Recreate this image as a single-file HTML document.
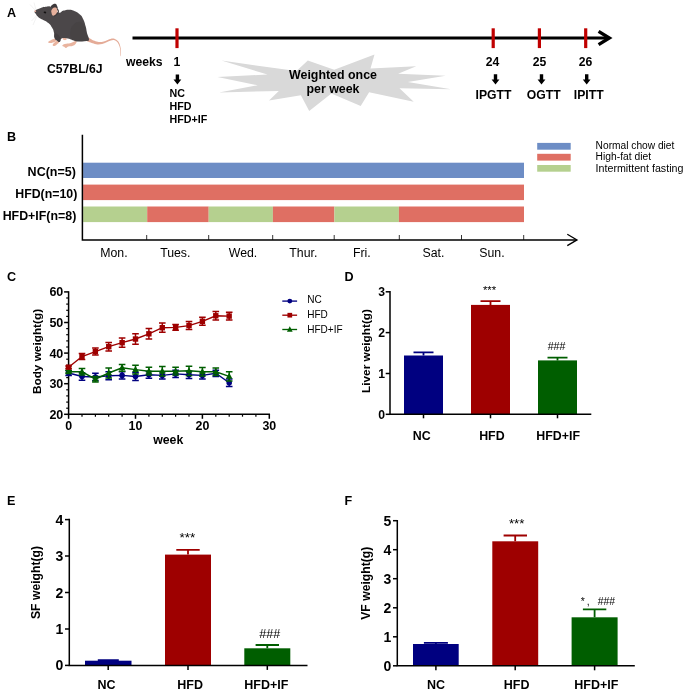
<!DOCTYPE html>
<html lang="en"><head><meta charset="utf-8"><title>Figure 1</title>
<style>html,body{margin:0;padding:0;background:#fff;}svg{display:block;}
text{font-family:"Liberation Sans",sans-serif;}
text.b{font-weight:bold;}
text.r{font-weight:normal;}</style>
</head><body>
<svg width="685" height="695" viewBox="0 0 685 695">
<rect width="685" height="695" fill="#fff"/>
<text x="7.0" y="16.9" font-size="12.6" class="b" text-anchor="start" fill="#000" >A</text>
<g id="mouse">
<path d="M86.4,40.8 C86.7,41.6 88.8,41.8 89.8,42.3 C90.9,42.7 91.4,43.0 92.6,43.3 C93.9,43.7 95.8,44.3 97.3,44.4 C98.9,44.5 100.6,44.4 102.1,44.1 C103.6,43.7 105.2,43.0 106.6,42.3 C108.1,41.7 109.5,40.8 110.8,40.4 C112.0,40.0 113.0,39.7 114.0,40.0 C115.1,40.3 116.4,40.9 117.3,41.9 C118.2,43.0 118.9,44.6 119.4,46.1 C119.9,47.7 120.3,49.7 120.4,51.3 C120.5,52.9 120.1,55.0 120.1,55.8 C120.1,56.5 120.3,56.6 120.5,55.8 C120.7,55.1 121.1,52.9 121.0,51.3 C121.0,49.6 120.7,47.5 120.2,45.9 C119.7,44.2 119.1,42.4 118.1,41.3 C117.1,40.1 115.6,39.2 114.4,38.8 C113.1,38.4 111.8,38.7 110.4,39.0 C109.0,39.3 107.4,40.2 106.0,40.7 C104.5,41.1 103.1,41.7 101.7,41.9 C100.3,42.1 99.0,42.1 97.7,41.8 C96.3,41.6 94.7,40.9 93.6,40.5 C92.5,40.1 92.1,39.8 91.2,39.3 C90.2,38.9 88.8,37.3 88.0,37.6 C87.2,37.8 86.1,40.0 86.4,40.8 Z" fill="#e4ab97"/>
<path d="M35.5,10.5 L30,4.5 M36,10 L34,2.5 M36.5,17 L33,25 M36.2,16 L31.5,21" stroke="#dedede" stroke-width="0.4" fill="none"/>
<path d="M75.5,40.9 C74.1,40.9 73.7,42.1 70.9,42.9 C68.0,43.7 67.0,43.2 64.7,43.9 C62.5,44.7 62.4,45.0 62.3,45.8 C62.2,46.5 63.3,46.2 64.2,46.8 C65.2,47.4 64.9,48.1 66.0,48.0 C67.1,47.9 66.5,47.1 68.3,46.5 C70.2,45.9 70.8,46.7 72.9,45.8 C75.0,44.8 75.5,44.2 76.2,42.9 C76.9,41.6 76.9,40.9 75.5,40.9 Z" fill="#e9b49f"/>
<path d="M55.0,38.8 C53.5,38.7 52.3,39.5 50.4,40.4 C48.6,41.2 48.3,41.4 48.2,42.1 C48.1,42.8 48.6,43.0 49.9,43.1 C51.2,43.2 51.4,43.0 53.0,42.4 C54.6,41.8 55.5,41.8 56.1,40.9 C56.6,39.9 56.5,39.0 55.0,38.8 Z" fill="#e9b49f"/>
<path d="M57.4,40.7 C56.2,40.8 55.8,41.3 54.5,42.4 C53.3,43.6 52.7,44.0 52.7,45.0 C52.7,45.9 53.4,46.1 54.5,46.0 C55.6,45.9 55.5,45.6 56.8,44.6 C58.0,43.5 59.0,43.1 59.1,42.1 C59.3,41.1 58.6,40.6 57.4,40.7 Z" fill="#e9b49f"/>
<path d="M62.5,38.0 C62.8,37.5 64.1,37.7 65.3,38.0 C66.4,38.4 67.1,38.8 66.8,39.3 C66.5,39.9 65.4,40.4 64.2,40.1 C63.1,39.7 62.2,38.6 62.5,38.0 Z" fill="#e9b49f"/>
<path d="M50.7,7.4 C50.5,6.0 51.5,5.4 52.7,4.5 C53.9,3.5 54.2,3.5 55.3,3.8 C56.5,4.1 56.3,4.2 56.9,5.6 C57.4,7.1 58.3,8.1 57.4,9.2 C56.5,10.3 55.3,10.2 53.5,9.7 C51.7,9.2 51.0,8.7 50.7,7.4 Z" fill="#3c383a"/>
<path d="M35.1,11.0 C36.3,9.4 37.0,9.4 40.2,8.2 C43.4,7.0 43.2,7.1 46.3,6.8 C49.5,6.6 48.1,5.6 51.5,7.2 C54.8,8.7 54.6,11.5 58.1,12.5 C61.6,13.5 60.7,11.4 63.7,10.6 C66.8,9.8 65.9,9.7 68.8,9.7 C71.7,9.7 71.0,9.6 73.9,10.7 C76.8,11.9 76.4,11.5 79.0,13.8 C81.7,16.1 81.3,15.3 83.1,18.9 C85.0,22.5 84.5,22.4 85.7,26.6 C86.8,30.8 86.3,30.1 87.2,33.7 C88.2,37.3 89.1,37.3 89.0,39.3 C88.8,41.4 89.5,40.5 86.7,41.1 C83.9,41.7 82.4,41.5 79.0,41.5 C75.7,41.4 77.3,41.5 75.0,40.9 C72.6,40.3 73.8,40.2 70.9,39.4 C68.0,38.7 67.6,38.2 64.7,38.1 C61.9,38.0 62.4,38.0 61.0,39.0 C59.5,40.1 60.8,41.5 59.6,41.9 C58.4,42.3 58.2,41.6 56.8,40.5 C55.3,39.3 55.3,40.0 54.5,37.8 C53.7,35.6 54.7,35.6 54.0,32.7 C53.3,29.8 53.6,30.3 52.0,27.6 C50.4,24.8 50.9,25.2 48.4,23.0 C45.9,20.8 46.0,21.5 43.3,19.9 C40.5,18.3 40.8,19.0 38.7,17.4 C36.6,15.7 36.9,15.9 35.9,14.1 C34.9,12.3 33.9,12.7 35.1,11.0 Z" fill="#4b4749"/>
<path d="M72.9,25.5 C75.0,23.0 75.3,22.4 78.0,22.0 C80.8,21.6 81.0,21.7 83.1,24.0 C85.3,26.3 84.8,26.7 86.0,30.7 C87.2,34.6 88.5,36.1 87.7,38.8 C87.0,41.6 86.3,40.4 83.1,40.9 C80.0,41.4 79.1,41.2 76.0,40.7 C72.9,40.1 72.9,41.2 71.4,38.8 C69.9,36.4 70.0,35.2 70.4,31.7 C70.8,28.1 70.9,28.1 72.9,25.5 Z" fill="#3c383a" opacity="0.28"/>
<path d="M54.5,33.7 C55.4,32.8 56.5,33.4 58.1,34.7 C59.7,36.1 60.2,37.0 60.7,38.8 C61.1,40.7 60.7,41.3 59.6,41.7 C58.6,42.1 58.1,41.4 56.8,40.5 C55.5,39.5 55.3,39.8 54.7,38.0 C54.1,36.2 53.6,34.6 54.5,33.7 Z" fill="#3c383a" opacity="0.6"/>
<path d="M55.0,7.4 C56.4,7.4 56.7,8.0 57.2,9.4 C57.6,10.8 57.8,11.1 56.8,12.8 C55.8,14.5 54.9,15.8 53.5,15.8 C52.1,15.8 51.9,14.5 51.5,12.8 C51.1,11.0 51.0,10.6 52.0,9.2 C52.9,7.8 53.6,7.3 55.0,7.4 Z" fill="#e6b09c"/>
<path d="M57.4,9.0 C57.7,9.7 58.6,10.3 58.4,11.8 C58.2,13.2 57.9,13.1 56.8,14.3 C55.6,15.5 54.7,15.8 54.0,16.3" fill="none" stroke="#3c383a" stroke-width="1.1"/>
<ellipse cx="44.9" cy="12.4" rx="1.35" ry="0.95" transform="rotate(15 44.9 12.4)" fill="#151313"/>
<circle cx="35.3" cy="11.2" r="0.9" fill="#dba392"/>
</g>
<text x="47" y="72.5" font-size="12.2" class="b" text-anchor="start" fill="#000" >C57BL/6J</text>
<line x1="132.5" y1="38" x2="608" y2="38" stroke="#000" stroke-width="3"/>
<path d="M598.6,31.4 L609.3,38 L598.6,44.6" fill="none" stroke="#000" stroke-width="3.4" stroke-linejoin="miter"/>
<line x1="177" y1="28.3" x2="177" y2="48.1" stroke="#c00000" stroke-width="3.2"/>
<line x1="493.2" y1="28.3" x2="493.2" y2="48.1" stroke="#c00000" stroke-width="3.2"/>
<line x1="539.4" y1="28.3" x2="539.4" y2="48.1" stroke="#c00000" stroke-width="3.2"/>
<line x1="585.7" y1="28.3" x2="585.7" y2="48.1" stroke="#c00000" stroke-width="3.2"/>
<text x="126" y="66" font-size="12.2" class="b" text-anchor="start" fill="#000" >weeks</text>
<text x="177" y="66" font-size="12.2" class="b" text-anchor="middle" fill="#000" >1</text>
<path d="M175.70000000000002,74.6 H179.1 V79.6 H181.3 L177.4,84.6 L173.5,79.6 H175.70000000000002 Z" fill="#000"/>
<text x="169.5" y="96.6" font-size="10.7" class="b" text-anchor="start" fill="#000" >NC</text>
<text x="169.5" y="109.8" font-size="10.7" class="b" text-anchor="start" fill="#000" >HFD</text>
<text x="169.5" y="123" font-size="10.7" class="b" text-anchor="start" fill="#000" >HFD+IF</text>
<polygon points="334.2,69.7 374.5,54.6 370.5,68.5 416.2,66.2 398.1,73.7 445.6,75.8 407.8,81.9 451.0,89.2 399.5,88.3 413.7,101.8 369.1,92.3 360.7,106.0 331.4,93.5 309.2,110.9 300.9,95.3 269.0,100.5 278.8,90.9 219.0,92.6 257.7,85.3 217.5,77.1 267.5,74.5 221.5,60.6 296.5,71.1 307.8,60.6" fill="#d9d9d9"/>
<text x="333" y="78.5" font-size="12.4" class="b" text-anchor="middle" fill="#000" >Weighted once</text>
<text x="333" y="92.9" font-size="12.4" class="b" text-anchor="middle" fill="#000" >per week</text>
<text x="492.5" y="66" font-size="12.2" class="b" text-anchor="middle" fill="#000" >24</text>
<path d="M493.8,74.2 H497.2 V79.4 H499.4 L495.5,84.4 L491.6,79.4 H493.8 Z" fill="#000"/>
<text x="493.5" y="98.5" font-size="12.2" class="b" text-anchor="middle" fill="#000" >IPGTT</text>
<text x="539.5" y="66" font-size="12.2" class="b" text-anchor="middle" fill="#000" >25</text>
<path d="M539.8,74.2 H543.2 V79.4 H545.4 L541.5,84.4 L537.6,79.4 H539.8 Z" fill="#000"/>
<text x="543.7" y="98.5" font-size="12.2" class="b" text-anchor="middle" fill="#000" >OGTT</text>
<text x="585.5" y="66" font-size="12.2" class="b" text-anchor="middle" fill="#000" >26</text>
<path d="M585.0,74.2 H588.4000000000001 V79.4 H590.6 L586.7,84.4 L582.8000000000001,79.4 H585.0 Z" fill="#000"/>
<text x="588.7" y="98.5" font-size="12.2" class="b" text-anchor="middle" fill="#000" >IPITT</text>
<text x="7.0" y="140.8" font-size="12.6" class="b" text-anchor="start" fill="#000" >B</text>
<rect x="83.1" y="162.7" width="440.9" height="15.3" fill="#6d8dc5"/>
<rect x="83.1" y="184.6" width="440.9" height="15.5" fill="#df6f63"/>
<rect x="83.1" y="206.5" width="64.1" height="15.6" fill="#b5d08f"/>
<rect x="147.2" y="206.5" width="61.5" height="15.6" fill="#df6f63"/>
<rect x="208.7" y="206.5" width="64.2" height="15.6" fill="#b5d08f"/>
<rect x="272.9" y="206.5" width="61.5" height="15.6" fill="#df6f63"/>
<rect x="334.4" y="206.5" width="64.5" height="15.6" fill="#b5d08f"/>
<rect x="398.9" y="206.5" width="125.1" height="15.6" fill="#df6f63"/>
<path d="M82.4,134.7 V239.9 H576.5" fill="none" stroke="#000" stroke-width="1.5"/>
<path d="M567.3,234.2 L577,239.9 L567.3,245.6" fill="none" stroke="#000" stroke-width="1.3"/>
<line x1="146.7" y1="235" x2="146.7" y2="239.9" stroke="#000" stroke-width="0.8"/>
<line x1="208.7" y1="235" x2="208.7" y2="239.9" stroke="#000" stroke-width="0.8"/>
<line x1="272.7" y1="235" x2="272.7" y2="239.9" stroke="#000" stroke-width="0.8"/>
<line x1="334.2" y1="235" x2="334.2" y2="239.9" stroke="#000" stroke-width="0.8"/>
<line x1="399.3" y1="235" x2="399.3" y2="239.9" stroke="#000" stroke-width="0.8"/>
<line x1="461.5" y1="235" x2="461.5" y2="239.9" stroke="#000" stroke-width="0.8"/>
<line x1="523.7" y1="235" x2="523.7" y2="239.9" stroke="#000" stroke-width="0.8"/>
<text x="113.9" y="257.2" font-size="12.3" class="r" text-anchor="middle" fill="#000" >Mon.</text>
<text x="175.3" y="257.2" font-size="12.3" class="r" text-anchor="middle" fill="#000" >Tues.</text>
<text x="243" y="257.2" font-size="12.3" class="r" text-anchor="middle" fill="#000" >Wed.</text>
<text x="303.3" y="257.2" font-size="12.3" class="r" text-anchor="middle" fill="#000" >Thur.</text>
<text x="361.9" y="257.2" font-size="12.3" class="r" text-anchor="middle" fill="#000" >Fri.</text>
<text x="433.4" y="257.2" font-size="12.3" class="r" text-anchor="middle" fill="#000" >Sat.</text>
<text x="491.9" y="257.2" font-size="12.3" class="r" text-anchor="middle" fill="#000" >Sun.</text>
<text x="75.9" y="175.7" font-size="12.5" class="b" text-anchor="end" fill="#000" >NC(n=5)</text>
<text x="77.3" y="198.2" font-size="12.35" class="b" text-anchor="end" fill="#000" >HFD(n=10)</text>
<text x="76.3" y="219.8" font-size="12.4" class="b" text-anchor="end" fill="#000" >HFD+IF(n=8)</text>
<rect x="537.2" y="142.9" width="33.5" height="6.8" fill="#6d8dc5"/>
<rect x="537.2" y="153.8" width="33.5" height="6.8" fill="#df6f63"/>
<rect x="537.2" y="165" width="33.5" height="6.7" fill="#b5d08f"/>
<text x="595.6" y="149.1" font-size="10" class="r" text-anchor="start" fill="#000" textLength="78.8" lengthAdjust="spacingAndGlyphs">Normal chow diet</text>
<text x="595.6" y="160.4" font-size="10" class="r" text-anchor="start" fill="#000" textLength="55.4" lengthAdjust="spacingAndGlyphs">High-fat diet</text>
<text x="595.6" y="171.5" font-size="10" class="r" text-anchor="start" fill="#000" textLength="87.8" lengthAdjust="spacingAndGlyphs">Intermittent fasting</text>
<text x="7.0" y="280.7" font-size="12.6" class="b" text-anchor="start" fill="#000" >C</text>
<path d="M68.6,291.15 V414.3 H270.05" fill="none" stroke="#000" stroke-width="1.5"/>
<line x1="64.1" y1="414.3" x2="68.6" y2="414.3" stroke="#000" stroke-width="1.5"/>
<text x="63.3" y="418.7" font-size="12.5" class="b" text-anchor="end" fill="#000" >20</text>
<line x1="66.19999999999999" y1="408.2" x2="68.6" y2="408.2" stroke="#000" stroke-width="1.2"/>
<line x1="66.19999999999999" y1="402.1" x2="68.6" y2="402.1" stroke="#000" stroke-width="1.2"/>
<line x1="66.19999999999999" y1="395.9" x2="68.6" y2="395.9" stroke="#000" stroke-width="1.2"/>
<line x1="66.19999999999999" y1="389.8" x2="68.6" y2="389.8" stroke="#000" stroke-width="1.2"/>
<line x1="64.1" y1="383.7" x2="68.6" y2="383.7" stroke="#000" stroke-width="1.5"/>
<text x="63.3" y="388.1" font-size="12.5" class="b" text-anchor="end" fill="#000" >30</text>
<line x1="66.19999999999999" y1="377.6" x2="68.6" y2="377.6" stroke="#000" stroke-width="1.2"/>
<line x1="66.19999999999999" y1="371.5" x2="68.6" y2="371.5" stroke="#000" stroke-width="1.2"/>
<line x1="66.19999999999999" y1="365.3" x2="68.6" y2="365.3" stroke="#000" stroke-width="1.2"/>
<line x1="66.19999999999999" y1="359.2" x2="68.6" y2="359.2" stroke="#000" stroke-width="1.2"/>
<line x1="64.1" y1="353.1" x2="68.6" y2="353.1" stroke="#000" stroke-width="1.5"/>
<text x="63.3" y="357.5" font-size="12.5" class="b" text-anchor="end" fill="#000" >40</text>
<line x1="66.19999999999999" y1="347.0" x2="68.6" y2="347.0" stroke="#000" stroke-width="1.2"/>
<line x1="66.19999999999999" y1="340.9" x2="68.6" y2="340.9" stroke="#000" stroke-width="1.2"/>
<line x1="66.19999999999999" y1="334.7" x2="68.6" y2="334.7" stroke="#000" stroke-width="1.2"/>
<line x1="66.19999999999999" y1="328.6" x2="68.6" y2="328.6" stroke="#000" stroke-width="1.2"/>
<line x1="64.1" y1="322.5" x2="68.6" y2="322.5" stroke="#000" stroke-width="1.5"/>
<text x="63.3" y="326.9" font-size="12.5" class="b" text-anchor="end" fill="#000" >50</text>
<line x1="66.19999999999999" y1="316.4" x2="68.6" y2="316.4" stroke="#000" stroke-width="1.2"/>
<line x1="66.19999999999999" y1="310.3" x2="68.6" y2="310.3" stroke="#000" stroke-width="1.2"/>
<line x1="66.19999999999999" y1="304.1" x2="68.6" y2="304.1" stroke="#000" stroke-width="1.2"/>
<line x1="66.19999999999999" y1="298.0" x2="68.6" y2="298.0" stroke="#000" stroke-width="1.2"/>
<line x1="64.1" y1="291.9" x2="68.6" y2="291.9" stroke="#000" stroke-width="1.5"/>
<text x="63.3" y="296.3" font-size="12.5" class="b" text-anchor="end" fill="#000" >60</text>
<line x1="68.6" y1="414.3" x2="68.6" y2="418.8" stroke="#000" stroke-width="1.5"/>
<text x="68.6" y="430.1" font-size="12.4" class="b" text-anchor="middle" fill="#000" >0</text>
<line x1="82.0" y1="414.3" x2="82.0" y2="416.7" stroke="#000" stroke-width="1.2"/>
<line x1="95.4" y1="414.3" x2="95.4" y2="416.7" stroke="#000" stroke-width="1.2"/>
<line x1="108.7" y1="414.3" x2="108.7" y2="416.7" stroke="#000" stroke-width="1.2"/>
<line x1="122.1" y1="414.3" x2="122.1" y2="416.7" stroke="#000" stroke-width="1.2"/>
<line x1="135.5" y1="414.3" x2="135.5" y2="418.8" stroke="#000" stroke-width="1.5"/>
<text x="135.5" y="430.1" font-size="12.4" class="b" text-anchor="middle" fill="#000" >10</text>
<line x1="148.9" y1="414.3" x2="148.9" y2="416.7" stroke="#000" stroke-width="1.2"/>
<line x1="162.3" y1="414.3" x2="162.3" y2="416.7" stroke="#000" stroke-width="1.2"/>
<line x1="175.6" y1="414.3" x2="175.6" y2="416.7" stroke="#000" stroke-width="1.2"/>
<line x1="189.0" y1="414.3" x2="189.0" y2="416.7" stroke="#000" stroke-width="1.2"/>
<line x1="202.4" y1="414.3" x2="202.4" y2="418.8" stroke="#000" stroke-width="1.5"/>
<text x="202.4" y="430.1" font-size="12.4" class="b" text-anchor="middle" fill="#000" >20</text>
<line x1="215.8" y1="414.3" x2="215.8" y2="416.7" stroke="#000" stroke-width="1.2"/>
<line x1="229.2" y1="414.3" x2="229.2" y2="416.7" stroke="#000" stroke-width="1.2"/>
<line x1="242.5" y1="414.3" x2="242.5" y2="416.7" stroke="#000" stroke-width="1.2"/>
<line x1="255.9" y1="414.3" x2="255.9" y2="416.7" stroke="#000" stroke-width="1.2"/>
<line x1="269.3" y1="414.3" x2="269.3" y2="418.8" stroke="#000" stroke-width="1.5"/>
<text x="269.3" y="430.1" font-size="12.4" class="b" text-anchor="middle" fill="#000" >30</text>
<text x="168.2" y="444.3" font-size="12.3" class="b" text-anchor="middle" fill="#000" >week</text>
<text transform="translate(40.5,351.5) rotate(-90)" font-size="11.8" class="b" text-anchor="middle" fill="#000" >Body weight(g)</text>
<polyline points="68.6,373.0 82.0,376.5 95.4,377.0 108.7,375.7 122.1,375.4 135.5,376.5 148.9,374.8 162.3,375.4 175.6,373.9 189.0,374.8 202.4,375.4 215.8,373.3 229.2,382.8" fill="none" stroke="#000080" stroke-width="1.4"/>
<path d="M68.6,370.5 V375.4 M65.3,370.5 h6.6 M65.3,375.4 h6.6" stroke="#000080" stroke-width="1.5" fill="none"/>
<circle cx="68.6" cy="373.0" r="2.80" fill="#000080"/>
<path d="M82.0,372.8 V380.2 M78.7,372.8 h6.6 M78.7,380.2 h6.6" stroke="#000080" stroke-width="1.5" fill="none"/>
<circle cx="82.0" cy="376.5" r="2.80" fill="#000080"/>
<path d="M95.4,373.3 V380.6 M92.1,373.3 h6.6 M92.1,380.6 h6.6" stroke="#000080" stroke-width="1.5" fill="none"/>
<circle cx="95.4" cy="377.0" r="2.80" fill="#000080"/>
<path d="M108.7,371.8 V379.7 M105.4,371.8 h6.6 M105.4,379.7 h6.6" stroke="#000080" stroke-width="1.5" fill="none"/>
<circle cx="108.7" cy="375.7" r="2.80" fill="#000080"/>
<path d="M122.1,371.8 V379.1 M118.8,371.8 h6.6 M118.8,379.1 h6.6" stroke="#000080" stroke-width="1.5" fill="none"/>
<circle cx="122.1" cy="375.4" r="2.80" fill="#000080"/>
<path d="M135.5,372.5 V380.5 M132.2,372.5 h6.6 M132.2,380.5 h6.6" stroke="#000080" stroke-width="1.5" fill="none"/>
<circle cx="135.5" cy="376.5" r="2.80" fill="#000080"/>
<path d="M148.9,371.5 V378.2 M145.6,371.5 h6.6 M145.6,378.2 h6.6" stroke="#000080" stroke-width="1.5" fill="none"/>
<circle cx="148.9" cy="374.8" r="2.80" fill="#000080"/>
<path d="M162.3,371.8 V379.1 M159.0,371.8 h6.6 M159.0,379.1 h6.6" stroke="#000080" stroke-width="1.5" fill="none"/>
<circle cx="162.3" cy="375.4" r="2.80" fill="#000080"/>
<path d="M175.6,370.2 V377.6 M172.3,370.2 h6.6 M172.3,377.6 h6.6" stroke="#000080" stroke-width="1.5" fill="none"/>
<circle cx="175.6" cy="373.9" r="2.80" fill="#000080"/>
<path d="M189.0,371.2 V378.5 M185.7,371.2 h6.6 M185.7,378.5 h6.6" stroke="#000080" stroke-width="1.5" fill="none"/>
<circle cx="189.0" cy="374.8" r="2.80" fill="#000080"/>
<path d="M202.4,371.8 V379.1 M199.1,371.8 h6.6 M199.1,379.1 h6.6" stroke="#000080" stroke-width="1.5" fill="none"/>
<circle cx="202.4" cy="375.4" r="2.80" fill="#000080"/>
<path d="M215.8,370.2 V376.4 M212.5,370.2 h6.6 M212.5,376.4 h6.6" stroke="#000080" stroke-width="1.5" fill="none"/>
<circle cx="215.8" cy="373.3" r="2.80" fill="#000080"/>
<path d="M229.2,379.1 V386.5 M225.9,379.1 h6.6 M225.9,386.5 h6.6" stroke="#000080" stroke-width="1.5" fill="none"/>
<circle cx="229.2" cy="382.8" r="2.80" fill="#000080"/>
<polyline points="68.6,371.8 82.0,371.8 95.4,379.1 108.7,373.0 122.1,367.8 135.5,369.6 148.9,371.2 162.3,371.2 175.6,371.2 189.0,370.8 202.4,371.8 215.8,371.8 229.2,376.4" fill="none" stroke="#005e00" stroke-width="1.4"/>
<path d="M68.6,370.5 V373.0 M65.3,370.5 h6.6 M65.3,373.0 h6.6" stroke="#005e00" stroke-width="1.5" fill="none"/>
<path d="M68.6,368.07 L71.90,374.27 L65.30,374.27 Z" fill="#005e00"/>
<path d="M82.0,368.4 V375.1 M78.7,368.4 h6.6 M78.7,375.1 h6.6" stroke="#005e00" stroke-width="1.5" fill="none"/>
<path d="M82.0,368.07 L85.28,374.27 L78.68,374.27 Z" fill="#005e00"/>
<path d="M95.4,376.4 V381.9 M92.1,376.4 h6.6 M92.1,381.9 h6.6" stroke="#005e00" stroke-width="1.5" fill="none"/>
<path d="M95.4,375.41 L98.66,381.61 L92.06,381.61 Z" fill="#005e00"/>
<path d="M108.7,368.1 V377.9 M105.4,368.1 h6.6 M105.4,377.9 h6.6" stroke="#005e00" stroke-width="1.5" fill="none"/>
<path d="M108.7,369.29 L112.04,375.49 L105.44,375.49 Z" fill="#005e00"/>
<path d="M122.1,364.4 V371.2 M118.8,364.4 h6.6 M118.8,371.2 h6.6" stroke="#005e00" stroke-width="1.5" fill="none"/>
<path d="M122.1,364.09 L125.42,370.29 L118.82,370.29 Z" fill="#005e00"/>
<path d="M135.5,365.3 V373.9 M132.2,365.3 h6.6 M132.2,373.9 h6.6" stroke="#005e00" stroke-width="1.5" fill="none"/>
<path d="M135.5,365.92 L138.80,372.12 L132.20,372.12 Z" fill="#005e00"/>
<path d="M148.9,367.2 V375.1 M145.6,367.2 h6.6 M145.6,375.1 h6.6" stroke="#005e00" stroke-width="1.5" fill="none"/>
<path d="M148.9,367.45 L152.18,373.65 L145.58,373.65 Z" fill="#005e00"/>
<path d="M162.3,366.4 V375.9 M159.0,366.4 h6.6 M159.0,375.9 h6.6" stroke="#005e00" stroke-width="1.5" fill="none"/>
<path d="M162.3,367.45 L165.56,373.65 L158.96,373.65 Z" fill="#005e00"/>
<path d="M175.6,367.2 V375.1 M172.3,367.2 h6.6 M172.3,375.1 h6.6" stroke="#005e00" stroke-width="1.5" fill="none"/>
<path d="M175.6,367.45 L178.94,373.65 L172.34,373.65 Z" fill="#005e00"/>
<path d="M189.0,366.3 V375.4 M185.7,366.3 h6.6 M185.7,375.4 h6.6" stroke="#005e00" stroke-width="1.5" fill="none"/>
<path d="M189.0,367.15 L192.32,373.35 L185.72,373.35 Z" fill="#005e00"/>
<path d="M202.4,367.5 V376.1 M199.1,367.5 h6.6 M199.1,376.1 h6.6" stroke="#005e00" stroke-width="1.5" fill="none"/>
<path d="M202.4,368.07 L205.70,374.27 L199.10,374.27 Z" fill="#005e00"/>
<path d="M215.8,368.1 V375.4 M212.5,368.1 h6.6 M212.5,375.4 h6.6" stroke="#005e00" stroke-width="1.5" fill="none"/>
<path d="M215.8,368.07 L219.08,374.27 L212.48,374.27 Z" fill="#005e00"/>
<path d="M229.2,371.8 V380.9 M225.9,371.8 h6.6 M225.9,380.9 h6.6" stroke="#005e00" stroke-width="1.5" fill="none"/>
<path d="M229.2,372.66 L232.46,378.86 L225.86,378.86 Z" fill="#005e00"/>
<polyline points="68.6,367.2 82.0,356.5 95.4,351.6 108.7,346.7 122.1,342.7 135.5,339.0 148.9,333.8 162.3,327.7 175.6,327.4 189.0,325.6 202.4,321.3 215.8,315.8 229.2,316.1" fill="none" stroke="#9e0000" stroke-width="1.4"/>
<path d="M68.6,366.0 V368.4 M65.3,366.0 h6.6 M65.3,368.4 h6.6" stroke="#9e0000" stroke-width="1.5" fill="none"/>
<rect x="65.90" y="364.48" width="5.40" height="5.40" fill="#9e0000"/>
<path d="M82.0,353.6 V359.4 M78.7,353.6 h6.6 M78.7,359.4 h6.6" stroke="#9e0000" stroke-width="1.5" fill="none"/>
<rect x="79.28" y="353.77" width="5.40" height="5.40" fill="#9e0000"/>
<path d="M95.4,348.1 V355.1 M92.1,348.1 h6.6 M92.1,355.1 h6.6" stroke="#9e0000" stroke-width="1.5" fill="none"/>
<rect x="92.66" y="348.87" width="5.40" height="5.40" fill="#9e0000"/>
<path d="M108.7,342.4 V351.0 M105.4,342.4 h6.6 M105.4,351.0 h6.6" stroke="#9e0000" stroke-width="1.5" fill="none"/>
<rect x="106.04" y="343.97" width="5.40" height="5.40" fill="#9e0000"/>
<path d="M122.1,338.1 V347.3 M118.8,338.1 h6.6 M118.8,347.3 h6.6" stroke="#9e0000" stroke-width="1.5" fill="none"/>
<rect x="119.42" y="340.00" width="5.40" height="5.40" fill="#9e0000"/>
<path d="M135.5,333.8 V344.2 M132.2,333.8 h6.6 M132.2,344.2 h6.6" stroke="#9e0000" stroke-width="1.5" fill="none"/>
<rect x="132.80" y="336.32" width="5.40" height="5.40" fill="#9e0000"/>
<path d="M148.9,328.6 V339.0 M145.6,328.6 h6.6 M145.6,339.0 h6.6" stroke="#9e0000" stroke-width="1.5" fill="none"/>
<rect x="146.18" y="331.12" width="5.40" height="5.40" fill="#9e0000"/>
<path d="M162.3,323.1 V332.3 M159.0,323.1 h6.6 M159.0,332.3 h6.6" stroke="#9e0000" stroke-width="1.5" fill="none"/>
<rect x="159.56" y="325.00" width="5.40" height="5.40" fill="#9e0000"/>
<path d="M175.6,324.5 V330.3 M172.3,324.5 h6.6 M172.3,330.3 h6.6" stroke="#9e0000" stroke-width="1.5" fill="none"/>
<rect x="172.94" y="324.70" width="5.40" height="5.40" fill="#9e0000"/>
<path d="M189.0,321.6 V329.5 M185.7,321.6 h6.6 M185.7,329.5 h6.6" stroke="#9e0000" stroke-width="1.5" fill="none"/>
<rect x="186.32" y="322.86" width="5.40" height="5.40" fill="#9e0000"/>
<path d="M202.4,317.3 V325.3 M199.1,317.3 h6.6 M199.1,325.3 h6.6" stroke="#9e0000" stroke-width="1.5" fill="none"/>
<rect x="199.70" y="318.58" width="5.40" height="5.40" fill="#9e0000"/>
<path d="M215.8,311.6 V319.9 M212.5,311.6 h6.6 M212.5,319.9 h6.6" stroke="#9e0000" stroke-width="1.5" fill="none"/>
<rect x="213.08" y="313.07" width="5.40" height="5.40" fill="#9e0000"/>
<path d="M229.2,312.2 V319.9 M225.9,312.2 h6.6 M225.9,319.9 h6.6" stroke="#9e0000" stroke-width="1.5" fill="none"/>
<rect x="226.46" y="313.37" width="5.40" height="5.40" fill="#9e0000"/>
<line x1="282.3" y1="301.1" x2="297.1" y2="301.1" stroke="#000080" stroke-width="1.35"/>
<circle cx="289.8" cy="301.1" r="2.44" fill="#000080"/>
<text x="307.2" y="303.1" font-size="10.9" class="r" text-anchor="start" fill="#000" textLength="14.5" lengthAdjust="spacingAndGlyphs">NC</text>
<line x1="282.3" y1="315.2" x2="297.1" y2="315.2" stroke="#9e0000" stroke-width="1.35"/>
<rect x="287.45" y="312.85" width="4.70" height="4.70" fill="#9e0000"/>
<text x="307.2" y="317.5" font-size="10.9" class="r" text-anchor="start" fill="#000" textLength="20.6" lengthAdjust="spacingAndGlyphs">HFD</text>
<line x1="282.3" y1="329.5" x2="297.1" y2="329.5" stroke="#005e00" stroke-width="1.35"/>
<path d="M289.8,326.28 L292.67,331.68 L286.93,331.68 Z" fill="#005e00"/>
<text x="307.2" y="333.0" font-size="10.9" class="r" text-anchor="start" fill="#000" textLength="35.4" lengthAdjust="spacingAndGlyphs">HFD+IF</text>
<text x="344.6" y="280.8" font-size="12.6" class="b" text-anchor="start" fill="#000" >D</text>
<path d="M423.5,355.5 V352.4 M413.5,352.4 h20.0" stroke="#000080" stroke-width="1.8" fill="none"/>
<rect x="404" y="355.5" width="39" height="58.8" fill="#000080"/>
<line x1="423.5" y1="414.3" x2="423.5" y2="418.3" stroke="#000" stroke-width="1.5"/>
<text x="421.8" y="439.8" font-size="12.4" class="b" text-anchor="middle" fill="#000" >NC</text>
<path d="M490.5,304.9 V301.2 M480.5,301.2 h20.0" stroke="#9e0000" stroke-width="1.8" fill="none"/>
<rect x="471" y="304.9" width="39" height="109.4" fill="#9e0000"/>
<line x1="490.5" y1="414.3" x2="490.5" y2="418.3" stroke="#000" stroke-width="1.5"/>
<text x="491.9" y="439.8" font-size="12.4" class="b" text-anchor="middle" fill="#000" >HFD</text>
<path d="M557.5,360.4 V357.7 M547.5,357.7 h20.0" stroke="#005e00" stroke-width="1.8" fill="none"/>
<rect x="538" y="360.4" width="39" height="53.9" fill="#005e00"/>
<line x1="557.5" y1="414.3" x2="557.5" y2="418.3" stroke="#000" stroke-width="1.5"/>
<text x="558.2" y="439.8" font-size="12.4" class="b" text-anchor="middle" fill="#000" >HFD+IF</text>
<path d="M390,291.05 V414.3 H591.3" fill="none" stroke="#000" stroke-width="1.5"/>
<line x1="385.7" y1="414.3" x2="390" y2="414.3" stroke="#000" stroke-width="1.5"/>
<text x="385" y="418.6" font-size="12.2" class="b" text-anchor="end" fill="#000" >0</text>
<line x1="385.7" y1="373.5" x2="390" y2="373.5" stroke="#000" stroke-width="1.5"/>
<text x="385" y="377.8" font-size="12.2" class="b" text-anchor="end" fill="#000" >1</text>
<line x1="385.7" y1="332.6" x2="390" y2="332.6" stroke="#000" stroke-width="1.5"/>
<text x="385" y="336.9" font-size="12.2" class="b" text-anchor="end" fill="#000" >2</text>
<line x1="385.7" y1="291.8" x2="390" y2="291.8" stroke="#000" stroke-width="1.5"/>
<text x="385" y="296.1" font-size="12.2" class="b" text-anchor="end" fill="#000" >3</text>
<text transform="translate(370.3,351) rotate(-90)" font-size="11.8" class="b" text-anchor="middle" fill="#000" >Liver weight(g)</text>
<text x="489.5" y="294.3" font-size="11.3" class="r" text-anchor="middle" fill="#000" >***</text>
<text x="556.6" y="349.8" font-size="10.7" class="r" text-anchor="middle" fill="#000" >###</text>
<text x="7.0" y="504.9" font-size="12.6" class="b" text-anchor="start" fill="#000" >E</text>
<path d="M108.2,660.7 V660.2 M97.8,660.2 h21.0" stroke="#000080" stroke-width="1.8" fill="none"/>
<rect x="85" y="660.7" width="46.5" height="4.7" fill="#000080"/>
<line x1="108.2" y1="665.4" x2="108.2" y2="669.9" stroke="#000" stroke-width="1.5"/>
<text x="106.5" y="689" font-size="12.5" class="b" text-anchor="middle" fill="#000" >NC</text>
<path d="M188.0,554.6 V549.9 M176.3,549.9 h23.4" stroke="#9e0000" stroke-width="1.8" fill="none"/>
<rect x="165" y="554.6" width="46" height="110.8" fill="#9e0000"/>
<line x1="188.0" y1="665.4" x2="188.0" y2="669.9" stroke="#000" stroke-width="1.5"/>
<text x="190.2" y="689" font-size="12.5" class="b" text-anchor="middle" fill="#000" >HFD</text>
<path d="M267.3,648.3 V645.0 M255.6,645.0 h23.4" stroke="#005e00" stroke-width="1.8" fill="none"/>
<rect x="244.3" y="648.3" width="46.0" height="17.1" fill="#005e00"/>
<line x1="267.3" y1="665.4" x2="267.3" y2="669.9" stroke="#000" stroke-width="1.5"/>
<text x="266.3" y="689" font-size="12.5" class="b" text-anchor="middle" fill="#000" >HFD+IF</text>
<path d="M69.3,518.85 V665.4 H307.5" fill="none" stroke="#000" stroke-width="1.5"/>
<line x1="65.0" y1="665.4" x2="69.3" y2="665.4" stroke="#000" stroke-width="1.5"/>
<text x="63.3" y="670.4" font-size="14" class="b" text-anchor="end" fill="#000" >0</text>
<line x1="65.0" y1="629.0" x2="69.3" y2="629.0" stroke="#000" stroke-width="1.5"/>
<text x="63.3" y="634.0" font-size="14" class="b" text-anchor="end" fill="#000" >1</text>
<line x1="65.0" y1="592.5" x2="69.3" y2="592.5" stroke="#000" stroke-width="1.5"/>
<text x="63.3" y="597.5" font-size="14" class="b" text-anchor="end" fill="#000" >2</text>
<line x1="65.0" y1="556.0" x2="69.3" y2="556.0" stroke="#000" stroke-width="1.5"/>
<text x="63.3" y="561.0" font-size="14" class="b" text-anchor="end" fill="#000" >3</text>
<line x1="65.0" y1="519.6" x2="69.3" y2="519.6" stroke="#000" stroke-width="1.5"/>
<text x="63.3" y="524.6" font-size="14" class="b" text-anchor="end" fill="#000" >4</text>
<text transform="translate(39.8,582.5) rotate(-90)" font-size="12.2" class="b" text-anchor="middle" fill="#000" >SF weight(g)</text>
<text x="187.3" y="541.6" font-size="13.5" class="r" text-anchor="middle" fill="#000" >***</text>
<text x="269.8" y="637.6" font-size="12.6" class="r" text-anchor="middle" fill="#000" >###</text>
<text x="344.6" y="504.8" font-size="12.6" class="b" text-anchor="start" fill="#000" >F</text>
<path d="M435.9,644.0 V642.9 M423.9,642.9 h24.0" stroke="#000080" stroke-width="1.8" fill="none"/>
<rect x="413" y="644.0" width="45.69999999999999" height="21.8" fill="#000080"/>
<line x1="435.9" y1="665.8" x2="435.9" y2="670.3" stroke="#000" stroke-width="1.5"/>
<text x="436" y="689" font-size="12.5" class="b" text-anchor="middle" fill="#000" >NC</text>
<path d="M515.2,541.3 V535.5 M503.6,535.5 h23.4" stroke="#9e0000" stroke-width="1.8" fill="none"/>
<rect x="492.3" y="541.3" width="45.900000000000034" height="124.5" fill="#9e0000"/>
<line x1="515.2" y1="665.8" x2="515.2" y2="670.3" stroke="#000" stroke-width="1.5"/>
<text x="516.7" y="689" font-size="12.5" class="b" text-anchor="middle" fill="#000" >HFD</text>
<path d="M594.6,617.3 V609.3 M582.9,609.3 h23.4" stroke="#005e00" stroke-width="1.8" fill="none"/>
<rect x="571.6" y="617.3" width="46.0" height="48.5" fill="#005e00"/>
<line x1="594.6" y1="665.8" x2="594.6" y2="670.3" stroke="#000" stroke-width="1.5"/>
<text x="596.3" y="689" font-size="12.5" class="b" text-anchor="middle" fill="#000" >HFD+IF</text>
<path d="M397.3,519.95 V665.8 H634.8" fill="none" stroke="#000" stroke-width="1.5"/>
<line x1="393.0" y1="665.8" x2="397.3" y2="665.8" stroke="#000" stroke-width="1.5"/>
<text x="391.3" y="670.8" font-size="14" class="b" text-anchor="end" fill="#000" >0</text>
<line x1="393.0" y1="636.8" x2="397.3" y2="636.8" stroke="#000" stroke-width="1.5"/>
<text x="391.3" y="641.8" font-size="14" class="b" text-anchor="end" fill="#000" >1</text>
<line x1="393.0" y1="607.8" x2="397.3" y2="607.8" stroke="#000" stroke-width="1.5"/>
<text x="391.3" y="612.8" font-size="14" class="b" text-anchor="end" fill="#000" >2</text>
<line x1="393.0" y1="578.7" x2="397.3" y2="578.7" stroke="#000" stroke-width="1.5"/>
<text x="391.3" y="583.7" font-size="14" class="b" text-anchor="end" fill="#000" >3</text>
<line x1="393.0" y1="549.7" x2="397.3" y2="549.7" stroke="#000" stroke-width="1.5"/>
<text x="391.3" y="554.7" font-size="14" class="b" text-anchor="end" fill="#000" >4</text>
<line x1="393.0" y1="520.7" x2="397.3" y2="520.7" stroke="#000" stroke-width="1.5"/>
<text x="391.3" y="525.7" font-size="14" class="b" text-anchor="end" fill="#000" >5</text>
<text transform="translate(369.8,583.2) rotate(-90)" font-size="12.2" class="b" text-anchor="middle" fill="#000" >VF weight(g)</text>
<text x="516.7" y="528" font-size="13.3" class="r" text-anchor="middle" fill="#000" >***</text>
<text x="585.2" y="604.9" font-size="10.4" class="r" text-anchor="middle" fill="#000" >*<tspan dx="1.9">,</tspan></text>
<text x="606.3" y="604.9" font-size="10.4" class="r" text-anchor="middle" fill="#000" >###</text>
</svg>
</body></html>
